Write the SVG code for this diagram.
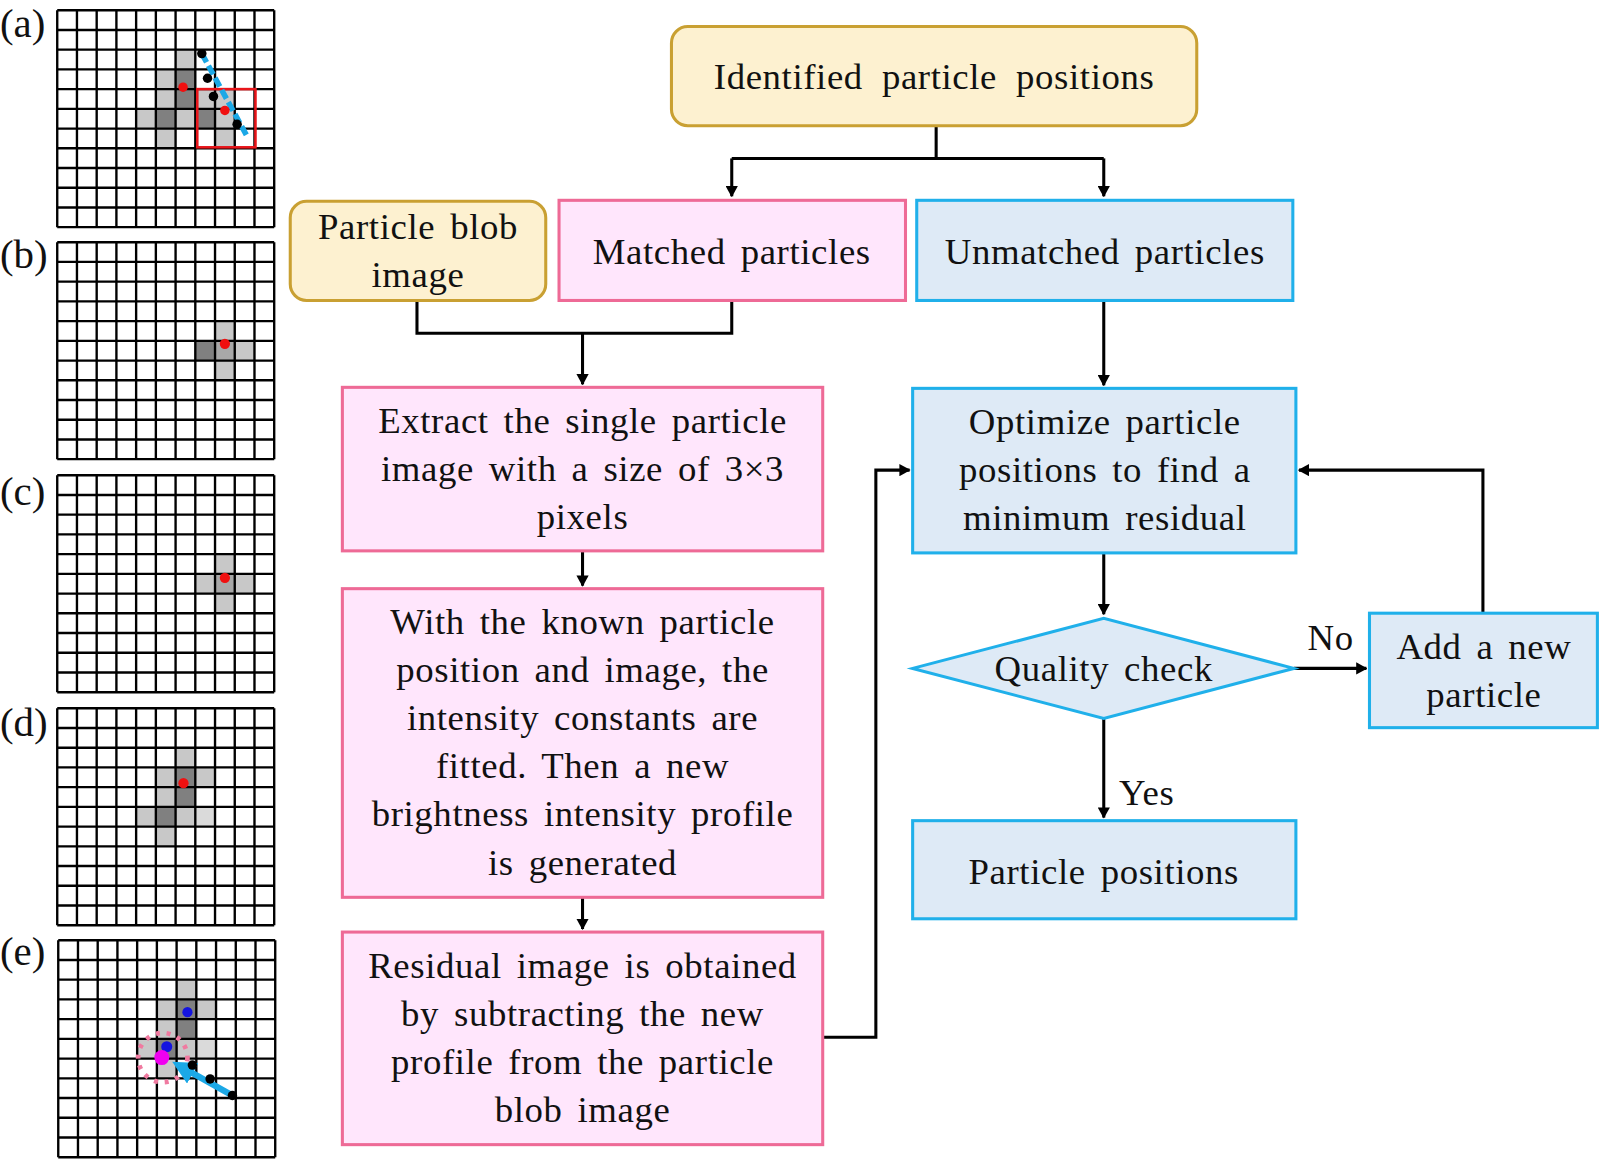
<svg xmlns="http://www.w3.org/2000/svg" width="1600" height="1160" viewBox="0 0 1600 1160">
<style>
text{font-family:"Liberation Serif","Times New Roman",serif;font-size:36px;letter-spacing:0.6px;word-spacing:5px;fill:#111;text-anchor:middle}
.lab{text-anchor:start;letter-spacing:0;font-size:40px}
.y{fill:#FDF1D0;stroke:#C9A032;stroke-width:3}
.p{fill:#FFE6FC;stroke:#EE6A96;stroke-width:3}
.b{fill:#DEEAF6;stroke:#20B0EA;stroke-width:3}
.c{fill:none;stroke:#000;stroke-width:3}
.l{fill:#C8C8C8}.m{fill:#A8A8A8}.d{fill:#808080}.e{fill:#DADADA}
.gl{fill:none;stroke:#000;stroke-width:0.12}
</style>
<defs>
<marker id="ah" markerWidth="11" markerHeight="12" refX="10" refY="6" orient="auto" markerUnits="userSpaceOnUse"><path d="M0,0 L11,6 L0,12 z" fill="#000"/></marker>
<marker id="bh" markerWidth="1.2" markerHeight="1.2" refX="0.6" refY="0.6" orient="auto" markerUnits="userSpaceOnUse"><path d="M0,0 L1.2,0.6 L0,1.2 z" fill="#1BA8E6"/></marker>
<path id="grid" class="gl" d="M0,0H11M0,1H11M0,2H11M0,3H11M0,4H11M0,5H11M0,6H11M0,7H11M0,8H11M0,9H11M0,10H11M0,11H11M0,0V11M1,0V11M2,0V11M3,0V11M4,0V11M5,0V11M6,0V11M7,0V11M8,0V11M9,0V11M10,0V11M11,0V11"/>
</defs>
<rect width="1600" height="1160" fill="#fff"/>
<g transform="scale(1.022)">
<g id="panel-a">
<text class="lab" x="0" y="36">(a)</text>
<g transform="translate(56,10) scale(19.3)">
<rect x="0" y="0" width="11" height="11" fill="#fff"/>
<g class="l"><rect x="6" y="2" width="1" height="1"/><rect x="5" y="3" width="1" height="1"/><rect x="5" y="4" width="1" height="1"/><rect x="7" y="4" width="1" height="1"/><rect x="8" y="4" width="1" height="1"/><rect x="4" y="5" width="1" height="1"/><rect x="6" y="5" width="1" height="1"/><rect x="8" y="5" width="1" height="1"/><rect x="5" y="6" width="1" height="1"/><rect x="8" y="6" width="1" height="1"/></g>
<g class="d"><rect x="6" y="3" width="1" height="1"/><rect x="6" y="4" width="1" height="1"/><rect x="5" y="5" width="1" height="1"/><rect x="7" y="5" width="1" height="1"/></g>
<use href="#grid"/>
<rect x="7.1" y="4" width="2.95" height="2.95" fill="none" stroke="#E8161B" stroke-width="0.13"/>
<path d="M7.33,2.2 L9.6,6.35" stroke="#1BA8E6" stroke-width="0.28" stroke-dasharray="0.5,0.2" fill="none"/>
<g fill="#000"><circle cx="7.33" cy="2.2" r="0.24"/><circle cx="7.62" cy="3.45" r="0.24"/><circle cx="7.92" cy="4.37" r="0.24"/><circle cx="9.12" cy="5.78" r="0.24"/></g>
<g fill="#F01010"><circle cx="6.38" cy="3.9" r="0.24"/><circle cx="8.5" cy="5.08" r="0.24"/></g>
</g>
</g>

<g id="panel-b">
<text class="lab" x="0" y="262">(b)</text>
<g transform="translate(56,237) scale(19.3)">
<rect x="0" y="0" width="11" height="11" fill="#fff"/>
<rect class="d" x="7" y="5" width="1" height="1"/>
<g class="l"><rect x="8" y="4" width="1" height="1"/><rect x="9" y="5" width="1" height="1"/><rect x="8" y="6" width="1" height="1"/></g>
<rect class="m" x="8" y="5" width="1" height="1"/>
<use href="#grid"/>
<circle cx="8.5" cy="5.15" r="0.26" fill="#F01010"/>
</g>
</g>

<g id="panel-c">
<text class="lab" x="0" y="494">(c)</text>
<g transform="translate(56,465) scale(19.3)">
<rect x="0" y="0" width="11" height="11" fill="#fff"/>
<g class="l"><rect x="7" y="5" width="1" height="1"/><rect x="8" y="4" width="1" height="1"/><rect x="9" y="5" width="1" height="1"/><rect x="8" y="6" width="1" height="1"/></g>
<rect class="m" x="8" y="5" width="1" height="1"/>
<use href="#grid"/>
<circle cx="8.5" cy="5.2" r="0.26" fill="#F01010"/>
</g>
</g>

<g id="panel-d">
<text class="lab" x="0" y="720">(d)</text>
<g transform="translate(56,693) scale(19.3)">
<rect x="0" y="0" width="11" height="11" fill="#fff"/>
<g class="l"><rect x="6" y="2" width="1" height="1"/><rect x="5" y="3" width="1" height="1"/><rect x="7" y="3" width="1" height="1"/><rect x="5" y="4" width="1" height="1"/><rect x="4" y="5" width="1" height="1"/><rect x="6" y="5" width="1" height="1"/><rect x="5" y="6" width="1" height="1"/></g>
<rect class="e" x="7" y="5" width="1" height="1"/>
<g class="d"><rect x="6" y="3" width="1" height="1"/><rect x="6" y="4" width="1" height="1"/><rect x="5" y="5" width="1" height="1"/></g>
<use href="#grid"/>
<circle cx="6.4" cy="3.8" r="0.26" fill="#F01010"/>
</g>
</g>

<g id="panel-e">
<text class="lab" x="0" y="944">(e)</text>
<g transform="translate(57,920) scale(19.3)">
<rect x="0" y="0" width="11" height="11" fill="#fff"/>
<g class="l"><rect x="6" y="2" width="1" height="1"/><rect x="5" y="3" width="1" height="1"/><rect x="7" y="3" width="1" height="1"/><rect x="5" y="4" width="1" height="1"/><rect x="4" y="5" width="1" height="1"/><rect x="6" y="5" width="1" height="1"/><rect x="5" y="6" width="1" height="1"/></g>
<rect class="e" x="7" y="5" width="1" height="1"/>
<g class="d"><rect x="6" y="3" width="1" height="1"/><rect x="6" y="4" width="1" height="1"/><rect x="5" y="5" width="1" height="1"/></g>
<use href="#grid"/>
<circle cx="5.3" cy="5.95" r="1.25" fill="none" stroke="#F07AA0" stroke-width="0.24" stroke-dasharray="0.2,0.35"/>
<circle cx="6.55" cy="3.65" r="0.26" fill="#1414E0"/>
<circle cx="5.5" cy="5.4" r="0.28" fill="#1414E0"/>
<circle cx="5.25" cy="5.95" r="0.38" fill="#F000F0"/>
<path d="M8.83,7.87 L6.3,6.45" stroke="#1BA8E6" stroke-width="0.32" fill="none" marker-end="url(#bh)"/>
<g fill="#000"><circle cx="6.8" cy="6.33" r="0.24"/><circle cx="7.7" cy="7.03" r="0.24"/><circle cx="8.83" cy="7.87" r="0.24"/></g>
</g>
</g>

<g id="connectors">
<path class="c" d="M916,123 V155 M716,155 H1080"/>
<path class="c" d="M716,155 V192" marker-end="url(#ah)"/>
<path class="c" d="M1080,155 V192" marker-end="url(#ah)"/>
<path class="c" d="M408,294 V326 H716 V294"/>
<path class="c" d="M570,326 V376" marker-end="url(#ah)"/>
<path class="c" d="M570,539 V573" marker-end="url(#ah)"/>
<path class="c" d="M570,878 V909" marker-end="url(#ah)"/>
<path class="c" d="M805,1015 H857 V460 H890" marker-end="url(#ah)"/>
<path class="c" d="M1080,294 V377" marker-end="url(#ah)"/>
<path class="c" d="M1080,541 V601" marker-end="url(#ah)"/>
<path class="c" d="M1266,654 H1337" marker-end="url(#ah)"/>
<path class="c" d="M1451,600 V460 H1271" marker-end="url(#ah)"/>
<path class="c" d="M1080,703 V800" marker-end="url(#ah)"/>
<text x="1302" y="636">No</text>
<text x="1122" y="788">Yes</text>
</g>

<g id="n-identified"><rect class="y" x="657" y="26" width="514" height="97" rx="16"/><text x="914" y="87" style="word-spacing:9px">Identified particle positions</text></g>
<g id="n-blob"><rect class="y" x="284" y="197" width="250" height="97" rx="16"/><text x="409" y="234">Particle blob</text><text x="409" y="281">image</text></g>
<g id="n-matched"><rect class="p" x="547" y="196" width="339" height="98"/><text x="716" y="258">Matched particles</text></g>
<g id="n-unmatched"><rect class="b" x="897" y="196" width="368" height="98"/><text x="1081" y="258">Unmatched particles</text></g>
<g id="n-extract"><rect class="p" x="335" y="379" width="470" height="160"/><text x="570" y="424">Extract the single particle</text><text x="570" y="471">image with a size of 3×3</text><text x="570" y="518">pixels</text></g>
<g id="n-fit"><rect class="p" x="335" y="576" width="470" height="302"/><text x="570" y="620">With the known particle</text><text x="570" y="667">position and image, the</text><text x="570" y="714">intensity constants are</text><text x="570" y="761">fitted. Then a new</text><text x="570" y="808">brightness intensity profile</text><text x="570" y="856">is generated</text></g>
<g id="n-residual"><rect class="p" x="335" y="912" width="470" height="208"/><text x="570" y="957">Residual image is obtained</text><text x="570" y="1004">by subtracting the new</text><text x="570" y="1051">profile from the particle</text><text x="570" y="1098">blob image</text></g>
<g id="n-optimize"><rect class="b" x="893" y="380" width="375" height="161"/><text x="1081" y="425">Optimize particle</text><text x="1081" y="472">positions to find a</text><text x="1081" y="519">minimum residual</text></g>
<g id="n-quality"><polygon class="b" points="893,654 1080,605 1266,654 1080,703"/><text x="1080" y="666">Quality check</text></g>
<g id="n-add"><rect class="b" x="1340" y="600" width="223" height="112"/><text x="1452" y="645">Add a new</text><text x="1452" y="692">particle</text></g>
<g id="n-positions"><rect class="b" x="893" y="803" width="375" height="96"/><text x="1080" y="865">Particle positions</text></g>
</g>
</svg>
